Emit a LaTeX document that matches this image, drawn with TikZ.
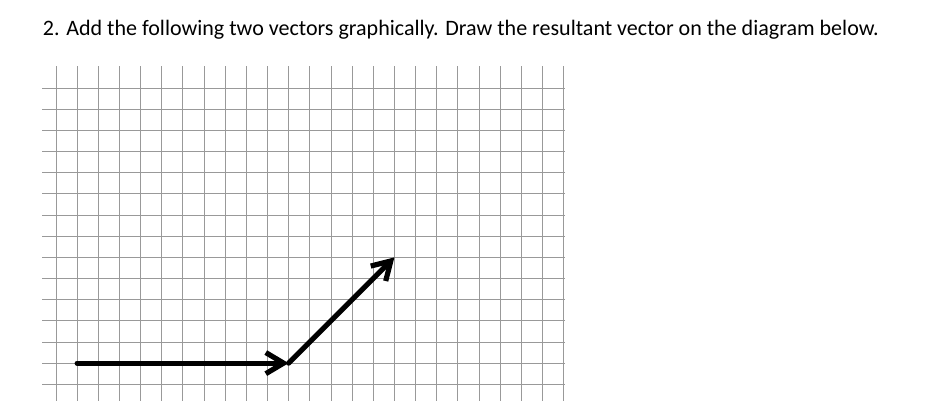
\documentclass[tikz,border=0pt]{standalone}
\usepackage{fontspec}
\setmainfont{Carlito}
\usetikzlibrary{arrows.meta}

\begin{document}
\begin{tikzpicture}[%
		x=0.5cm,
		y=0.5cm,
		gridline/.style={%
			draw=black!40,
			line width=0.6pt
		},
		vector/.style={%
			line width=3.5pt,
			line cap=round,
			-{Straight Barb[length=0.42cm,width=0.5cm,line width=3.5pt]}
		}
		]
		\useasboundingbox (-2.648,-1.499) rectangle (41.23,18.17);
		% grid
		\foreach \gx in {0,...,24}
		\draw[gridline] (\gx,-0.78) -- (\gx,15.05);
		\foreach \gy in {0,...,14}
		\draw[gridline] (-0.66,\gy) -- (24.05,\gy);
		
		\node[anchor=base west,inner sep=0pt,font=\fontsize{14.82pt}{17pt}\selectfont] (question) at (-0.63,16.47)
		{2. Add the following two vectors graphically. Draw the resultant vector on the diagram below.};
		
		\coordinate (tail) at (1,1);
		\coordinate (head1) at (11,1);
		\coordinate (head2) at (16,6);
		
		\draw[vector] (tail) -- (head1);
		\draw[vector] (head1) -- (head2);
		\end{tikzpicture}
\end{document}
